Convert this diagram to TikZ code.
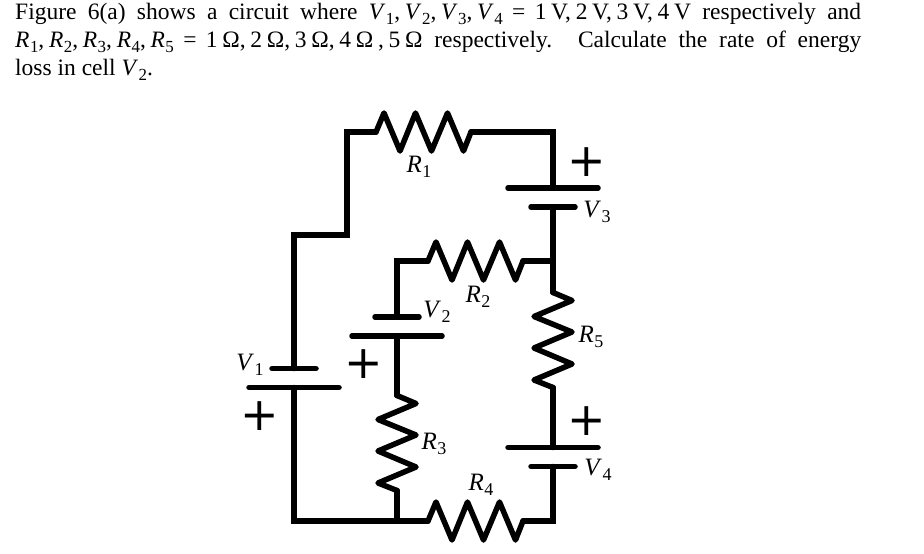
\documentclass[tikz,border=0pt]{standalone}
\usepackage{fontspec}
\setmainfont{Liberation Serif}
\newfontfamily\plusfont{DejaVu Sans}
\newcommand{\sym}[2]{\textit{#1}\kern0.02em\raisebox{-0.22em}{\scalebox{0.72}{#2}}}
\newcommand{\gap}{\kern0.2em}
\newcommand{\eqgap}{\kern0.4em}
\tikzset{
    wire/.style={line width=5.5pt, line cap=round},
    res/.pic={
        \coordinate (-a) at (-47.5,0);
        \coordinate (-b) at (47.5,0);
        \draw[wire, line join=round] (-47.5,0) -- (-39.5,-19) -- (-23.5,19) -- (-8,-19) -- (8,19) -- (24,-19) -- (40,19) -- (47.5,0);
    },
    cell/.pic={
        \coordinate (-p) at (0,-9.5);
        \coordinate (-n) at (0,9.5);
        \draw[wire] (-45,-9.5) -- (45,-9.5);
        \draw[wire] (-22,9.5) -- (22,9.5);
    }
}
\begin{document}
\begin{tikzpicture}[
    x=1pt,
    y=-1pt,
    lbl/.style={inner sep=0pt, font=\fontsize{25}{25}\selectfont},
    pol/.style={inner sep=0pt, font=\plusfont\fontsize{46}{46}\selectfont}
]
    \useasboundingbox (0,0) rectangle (924,554);

    % Statement
    \node[anchor=north west, inner sep=0pt, text width=846pt, align=justify, font=\fontsize{23.5}{28}\selectfont] (statement) at (15,3) {Figure 6(a) shows a circuit where \sym{V}{1},\gap\sym{V}{2},\gap\sym{V}{3},\gap\sym{V}{4}\eqgap=\eqgap1\gap V,\gap2\gap V,\gap3\gap V,\gap4\gap V respectively and\linebreak \sym{R}{1},\gap\sym{R}{2},\gap\sym{R}{3},\gap\sym{R}{4},\gap\sym{R}{5}\eqgap=\eqgap1\gap Ω,\gap2\gap Ω,\gap3\gap Ω,\gap4\gap Ω\gap,\gap5\gap Ω respectively. Calculate the rate of energy\linebreak loss in cell \sym{V}{2}.};

    % Components
    \pic (rone) at (423.5,132) {res};
    \pic (rtwo) at (475.5,261) {res};
    \pic[rotate=-90] (rthree) at (397,443) {res};
    \pic (rfour) at (475.5,521) {res};
    \pic[rotate=-90] (rfive) at (553,340) {res};
    \pic[rotate=180] (vone) at (294,378) {cell};
    \pic[rotate=180] (vtwo) at (397,326.5) {cell};
    \pic (vthree) at (553,197.5) {cell};
    \pic (vfour) at (553,457) {cell};

    % Corners
    \coordinate (stepa) at (294,235);
    \coordinate (stepb) at (347,235);
    \coordinate (topl) at (347,132);
    \coordinate (topr) at (553,132);
    \coordinate (midl) at (397,261);
    \coordinate (midr) at (553,261);
    \coordinate (botl) at (294,521);
    \coordinate (botm) at (397,521);
    \coordinate (botr) at (553,521);

    % Wires
    \draw[wire] (vone-n) -- (stepa) -- (stepb) -- (topl) -- (rone-a);
    \draw[wire] (rone-b) -- (topr) -- (vthree-p);
    \draw[wire] (vthree-n) -- (midr) -- (rfive-a);
    \draw[wire] (midr) -- (rtwo-b);
    \draw[wire] (rtwo-a) -- (midl) -- (vtwo-n);
    \draw[wire] (vtwo-p) -- (rthree-a);
    \draw[wire] (rthree-b) -- (botm);
    \draw[wire] (vone-p) -- (botl) -- (rfour-a);
    \draw[wire] (rfour-b) -- (botr) -- (vfour-n);
    \draw[wire] (rfive-b) -- (vfour-p);

    % Labels
    \node[lbl] (labelrone) at (419,167) {\sym{R}{1}};
    \node[lbl] (labelrtwo) at (478,297) {\sym{R}{2}};
    \node[lbl] (labelrthree) at (434,444) {\sym{R}{3}};
    \node[lbl] (labelrfour) at (481,485) {\sym{R}{4}};
    \node[lbl] (labelrfive) at (591,337) {\sym{R}{5}};
    \node[lbl] (labelvone) at (250,365) {\sym{V}{1}};
    \node[lbl] (labelvtwo) at (437,312) {\sym{V}{2}};
    \node[lbl] (labelvthree) at (597,212) {\sym{V}{3}};
    \node[lbl] (labelvfour) at (598,470) {\sym{V}{4}};

    % Polarity
    \node[pol] (plusone) at (260,416) {+};
    \node[pol] (plustwo) at (364,364) {+};
    \node[pol] (plusthree) at (587,162) {+};
    \node[pol] (plusfour) at (587,421) {+};
\end{tikzpicture}
\end{document}
